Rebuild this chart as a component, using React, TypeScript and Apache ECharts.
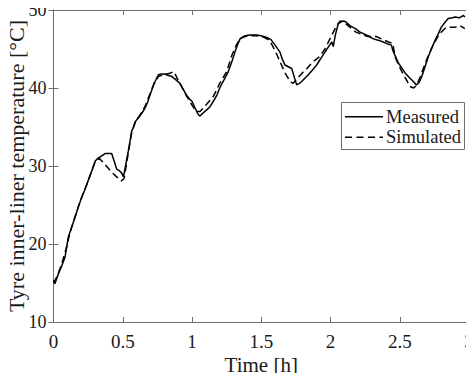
import React, { useEffect, useRef } from "react";
import * as echarts from "echarts";

const measuredTime = [
  0.0, 0.01, 0.035, 0.06, 0.083, 0.095, 0.107, 0.13, 0.155, 0.18, 0.204, 0.225, 0.25, 0.275, 0.3, 0.32, 0.34,
  0.372, 0.4, 0.42, 0.44, 0.456, 0.475, 0.49, 0.505, 0.52, 0.54, 0.565, 0.576, 0.595, 0.612, 0.635, 0.66,
  0.68, 0.697, 0.715, 0.733, 0.757, 0.78, 0.805, 0.83, 0.853, 0.88, 0.913, 0.935, 0.96, 0.98, 1.0, 1.02,
  1.045, 1.058, 1.08, 1.106, 1.13, 1.154, 1.18, 1.2, 1.23, 1.262, 1.29, 1.31, 1.33, 1.347, 1.383, 1.42,
  1.467, 1.5, 1.55, 1.57, 1.6, 1.635, 1.65, 1.671, 1.72, 1.74, 1.756, 1.775, 1.79, 1.84, 1.87, 1.9, 1.93,
  1.96, 1.99, 2.01, 2.02, 2.035, 2.056, 2.09, 2.11, 2.14, 2.18, 2.21, 2.27, 2.31, 2.35, 2.38, 2.42, 2.44,
  2.45, 2.47, 2.49, 2.54, 2.574, 2.6, 2.62, 2.64, 2.66, 2.68, 2.706, 2.73, 2.755, 2.78, 2.8, 2.83, 2.85,
  2.88, 2.9, 2.93, 2.96, 2.97,
];
const measuredTemp = [
  15.4, 14.9, 16.2, 17.2, 18.3, 19.6, 20.9, 22.1, 23.4, 24.8, 26.0, 26.9, 28.1, 29.3, 30.6, 31.0, 31.2,
  31.6, 31.6, 31.6, 30.5, 29.6, 29.4, 29.15, 28.6, 30.0, 31.9, 34.5, 34.9, 35.8, 36.15, 36.7, 37.4,
  38.2, 39.1, 40.0, 40.8, 41.7, 41.8, 41.8, 41.6, 41.5, 41.1, 40.6, 39.9, 39.1, 38.6, 38.3, 37.5,
  36.6, 36.4, 36.8, 37.2, 37.6, 38.3, 39.1, 40.0, 41.0, 42.1, 43.5, 44.6, 45.6, 46.3, 46.7, 46.8,
  46.8, 46.7, 46.4, 46.2, 45.5, 44.6, 43.8, 42.95, 42.5, 41.3, 40.4, 40.6, 40.8, 41.7, 42.3, 42.95, 43.8,
  44.6, 45.4, 45.9, 45.3, 46.8, 48.25, 48.6, 48.5, 48.0, 47.6, 47.2, 46.7, 46.3, 46.1, 45.9, 45.6, 45.5,
  44.8, 44.0, 43.2, 41.9, 41.25, 40.8, 40.4, 40.7, 41.5, 42.6, 44.0, 45.1, 46.1, 47.0, 47.8, 48.5, 48.9,
  49.0, 49.1, 49.0, 49.3, 49.1,
];

const simulatedTime = [
  0.0, 0.03, 0.06, 0.09, 0.12, 0.15, 0.18, 0.21, 0.24, 0.27, 0.3, 0.33, 0.372, 0.41, 0.45, 0.49, 0.51,
  0.54, 0.565, 0.59, 0.62, 0.66, 0.7, 0.73, 0.76, 0.8, 0.84, 0.87, 0.9, 0.93, 0.96, 1.0, 1.03, 1.058,
  1.08, 1.11, 1.154, 1.2, 1.25, 1.29, 1.32, 1.35, 1.4, 1.47, 1.52, 1.56, 1.6, 1.635, 1.67, 1.71, 1.73,
  1.76, 1.8, 1.83, 1.87, 1.92, 1.96, 2.01, 2.045, 2.07, 2.1, 2.14, 2.18, 2.22, 2.27, 2.33, 2.38, 2.42,
  2.45, 2.466, 2.49, 2.51, 2.54, 2.574, 2.6, 2.62, 2.65, 2.68, 2.71, 2.75, 2.79, 2.83, 2.86, 2.9, 2.935,
  2.97,
];
const simulatedTemp = [
  15.0, 16.0, 17.5, 19.3, 21.5, 23.2, 24.8, 26.3, 27.6, 29.1, 30.5, 31.0, 30.2, 29.4, 28.7, 28.1, 28.4,
  31.7, 34.3, 35.7, 36.4, 37.6, 39.4, 40.8, 41.5, 41.7, 41.9, 42.1, 41.0, 40.0, 39.0, 37.8, 37.0, 37.0,
  37.4, 38.0, 38.9, 40.6, 42.1, 44.3, 45.5, 46.4, 46.7, 46.7, 46.5, 46.1, 44.8, 43.4, 42.0, 40.8, 40.6,
  41.2, 42.0, 42.5, 43.3, 44.0, 45.0, 46.8, 48.0, 48.6, 48.4, 47.8, 47.2, 46.9, 46.6, 46.6, 46.2, 45.9,
  45.7, 44.0, 43.0, 42.3, 41.3, 40.2, 40.0, 40.3, 41.5, 43.0, 44.3, 45.8, 47.0, 47.7, 47.8, 47.8, 48.0,
  47.6,
];

const legendNames = ["Measured", "Simulated"];

const xTicks = { min: 0, max: 3, interval: 0.5 };
const yTicks = { min: 10, max: 50, interval: 10 };

const FONT = "'Liberation Serif', 'Times New Roman', serif";
const AXIS_COLOR = "#6e6e6e";
const TEXT_COLOR = "#1a1a1a";

export default function App() {
  const ref = useRef<HTMLDivElement>(null);
  useEffect(() => {
    if (!ref.current) return;
    const chart = echarts.init(ref.current, null, { renderer: "svg" });
    const measured = measuredTime.map((t, i) => [t, measuredTemp[i]]);
    const simulated = simulatedTime.map((t, i) => [t, simulatedTemp[i]]);
    const axisLine = { show: true, lineStyle: { color: AXIS_COLOR, width: 1 } };
    const axisTick = { show: true, inside: true, length: 5, lineStyle: { color: AXIS_COLOR, width: 1 } };

    const lgX = 341, lgY = 102, lgW = 123, lgH = 47;
    const rowY = [116.7, 137.3];
    const legendGraphic = {
      type: "group",
      z: 100,
      children: [
        {
          type: "rect",
          shape: { x: lgX + 0.5, y: lgY + 0.5, width: lgW, height: lgH },
          style: { fill: "#ffffff", stroke: AXIS_COLOR, lineWidth: 1 },
        },
        {
          type: "line",
          shape: { x1: lgX + 4, y1: rowY[0], x2: lgX + 42, y2: rowY[0] },
          style: { stroke: "#000000", lineWidth: 1.6 },
        },
        {
          type: "line",
          shape: { x1: lgX + 4, y1: rowY[1], x2: lgX + 42, y2: rowY[1] },
          style: { stroke: "#000000", lineWidth: 1.6, lineDash: [7, 4.5] },
        },
        ...legendNames.map((n, i) => ({
          type: "text",
          x: lgX + 45,
          y: rowY[i],
          style: {
            text: n,
            fontFamily: FONT,
            fontSize: 18.5,
            fill: TEXT_COLOR,
            verticalAlign: "middle",
            align: "left",
          },
        })),
      ],
    };

    chart.setOption({
      animation: false,
      backgroundColor: "#ffffff",
      grid: { left: 53.5, right: 5, top: 10, bottom: 59, containLabel: false, outerBoundsMode: "none" },
      graphic: [legendGraphic],
      xAxis: [
        {
          type: "value",
          position: "bottom",
          min: xTicks.min,
          max: xTicks.max,
          interval: xTicks.interval,
          axisLine,
          axisTick,
          splitLine: { show: false },
          axisLabel: {
            fontFamily: FONT,
            fontSize: 19,
            color: TEXT_COLOR,
            margin: 10,
            formatter: (v: number) => String(v),
          },
          name: "Time [h]",
          nameLocation: "middle",
          nameGap: 32,
          nameMoveOverlap: false,
          nameTextStyle: { fontFamily: FONT, fontSize: 21, color: TEXT_COLOR },
        },
        {
          type: "value",
          position: "top",
          min: xTicks.min,
          max: xTicks.max,
          interval: xTicks.interval,
          axisLine,
          axisTick,
          splitLine: { show: false },
          axisLabel: { show: false },
        },
      ],
      yAxis: [
        {
          type: "value",
          position: "left",
          min: yTicks.min,
          max: yTicks.max,
          interval: yTicks.interval,
          axisLine,
          axisTick,
          splitLine: { show: false },
          axisLabel: { fontFamily: FONT, fontSize: 18, color: TEXT_COLOR, margin: 7 },
          name: "Tyre inner-liner temperature [°C]",
          nameLocation: "middle",
          nameGap: 26,
          nameMoveOverlap: false,
          nameTextStyle: { fontFamily: FONT, fontSize: 22, color: TEXT_COLOR },
        },
        {
          type: "value",
          position: "right",
          min: yTicks.min,
          max: yTicks.max,
          interval: yTicks.interval,
          axisLine,
          axisTick,
          splitLine: { show: false },
          axisLabel: { show: false },
        },
      ],
      series: [
        {
          name: legendNames[0],
          type: "line",
          data: measured,
          showSymbol: false,
          symbol: "none",
          lineStyle: { color: "#000000", width: 1.5, type: "solid" },
          itemStyle: { color: "#000000" },
        },
        {
          name: legendNames[1],
          type: "line",
          data: simulated,
          showSymbol: false,
          symbol: "none",
          lineStyle: { color: "#000000", width: 1.5, type: [7, 4] },
          itemStyle: { color: "#000000" },
        },
      ],
    });
    return () => chart.dispose();
  }, []);
  return <div ref={ref} style={{ width: 474, height: 381, margin: -8 }} />;
}
